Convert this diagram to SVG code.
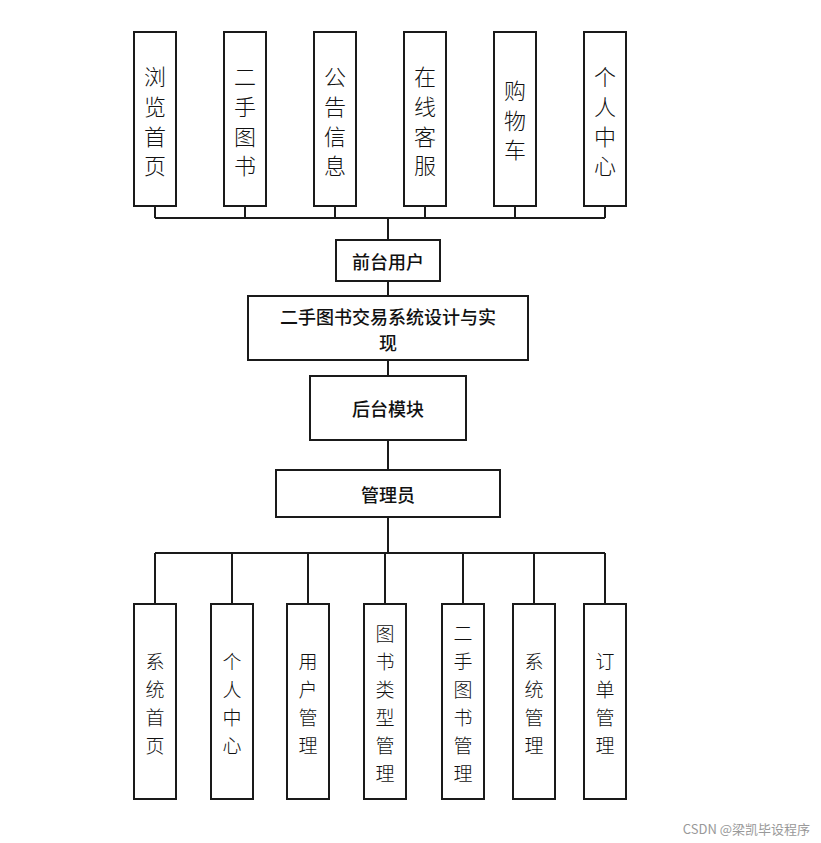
<svg xmlns="http://www.w3.org/2000/svg" width="821" height="843" viewBox="0 0 821 843">
<style>
.b{fill:#fff;stroke:#1a1a1a;stroke-width:2}
.v{font-family:"Noto Sans CJK SC",sans-serif;font-weight:300;font-size:22px;fill:#111;text-anchor:middle;dominant-baseline:central}
.w{font-family:"Noto Sans CJK SC",sans-serif;font-weight:300;font-size:19px;fill:#111;text-anchor:middle;dominant-baseline:central}
.m{font-family:"Noto Sans CJK SC",sans-serif;font-weight:500;font-size:18px;fill:#111;text-anchor:middle;dominant-baseline:central}
.l{fill:none;stroke:#1a1a1a;stroke-width:2}
</style>
<rect width="821" height="843" fill="#fff"/>
<g id="connectors" class="l">
<path d="M155 206V218M245 206V218M335 206V218M425 206V218M515 206V218M605 206V218M155 218H605M388 218V240M388 281V296M388 360V376M388 440V470M388 517V553M155 553H605"/>
<path d="M155 553V604M232 553V604M308 553V604M385 553V604M463 553V604M534 553V604M605 553V604"/>
</g>
<g id="n1"><rect class="b" x="134" y="32" width="42" height="174"/><text class="v" x="155"><tspan x="155" y="75">浏</tspan><tspan x="155" y="105">览</tspan><tspan x="155" y="135">首</tspan><tspan x="155" y="164">页</tspan></text></g>
<g id="n2"><rect class="b" x="224" y="32" width="42" height="174"/><text class="v"><tspan x="245" y="75">二</tspan><tspan x="245" y="105">手</tspan><tspan x="245" y="135">图</tspan><tspan x="245" y="164">书</tspan></text></g>
<g id="n3"><rect class="b" x="314" y="32" width="42" height="174"/><text class="v"><tspan x="335" y="75">公</tspan><tspan x="335" y="105">告</tspan><tspan x="335" y="135">信</tspan><tspan x="335" y="164">息</tspan></text></g>
<g id="n4"><rect class="b" x="404" y="32" width="42" height="174"/><text class="v"><tspan x="425" y="75">在</tspan><tspan x="425" y="105">线</tspan><tspan x="425" y="135">客</tspan><tspan x="425" y="164">服</tspan></text></g>
<g id="n5"><rect class="b" x="494" y="32" width="42" height="174"/><text class="v"><tspan x="515" y="89">购</tspan><tspan x="515" y="119">物</tspan><tspan x="515" y="148">车</tspan></text></g>
<g id="n6"><rect class="b" x="584" y="32" width="42" height="174"/><text class="v"><tspan x="605" y="75">个</tspan><tspan x="605" y="105">人</tspan><tspan x="605" y="135">中</tspan><tspan x="605" y="164">心</tspan></text></g>
<g id="front"><rect class="b" x="336" y="240" width="104" height="41"/><text class="m" x="388" y="261">前台用户</text></g>
<g id="system"><rect class="b" x="248" y="296" width="280" height="64"/><text class="m"><tspan x="388" y="316">二手图书交易系统设计与实</tspan><tspan x="388" y="342">现</tspan></text></g>
<g id="back"><rect class="b" x="310" y="376" width="156" height="64"/><text class="m" x="388" y="408">后台模块</text></g>
<g id="admin"><rect class="b" x="276" y="470" width="224" height="47"/><text class="m" x="388" y="494">管理员</text></g>
<g id="b1"><rect class="b" x="134" y="604" width="42" height="195"/><text class="w"><tspan x="155" y="660">系</tspan><tspan x="155" y="688">统</tspan><tspan x="155" y="716">首</tspan><tspan x="155" y="744">页</tspan></text></g>
<g id="b2"><rect class="b" x="211" y="604" width="42" height="195"/><text class="w"><tspan x="232" y="660">个</tspan><tspan x="232" y="688">人</tspan><tspan x="232" y="716">中</tspan><tspan x="232" y="744">心</tspan></text></g>
<g id="b3"><rect class="b" x="287" y="604" width="42" height="195"/><text class="w"><tspan x="308" y="660">用</tspan><tspan x="308" y="688">户</tspan><tspan x="308" y="716">管</tspan><tspan x="308" y="744">理</tspan></text></g>
<g id="b4"><rect class="b" x="364" y="604" width="42" height="195"/><text class="w"><tspan x="385" y="632">图</tspan><tspan x="385" y="660">书</tspan><tspan x="385" y="688">类</tspan><tspan x="385" y="716">型</tspan><tspan x="385" y="744">管</tspan><tspan x="385" y="772">理</tspan></text></g>
<g id="b5"><rect class="b" x="442" y="604" width="42" height="195"/><text class="w"><tspan x="463" y="632">二</tspan><tspan x="463" y="660">手</tspan><tspan x="463" y="688">图</tspan><tspan x="463" y="716">书</tspan><tspan x="463" y="744">管</tspan><tspan x="463" y="772">理</tspan></text></g>
<g id="b6"><rect class="b" x="513" y="604" width="42" height="195"/><text class="w"><tspan x="534" y="660">系</tspan><tspan x="534" y="688">统</tspan><tspan x="534" y="716">管</tspan><tspan x="534" y="744">理</tspan></text></g>
<g id="b7"><rect class="b" x="584" y="604" width="42" height="195"/><text class="w"><tspan x="605" y="660">订</tspan><tspan x="605" y="688">单</tspan><tspan x="605" y="716">管</tspan><tspan x="605" y="744">理</tspan></text></g>
<text x="810" y="828" font-family="Noto Sans CJK SC,sans-serif" font-size="13" fill="#999" text-anchor="end" dominant-baseline="central">CSDN @梁凯毕设程序</text>
</svg>
